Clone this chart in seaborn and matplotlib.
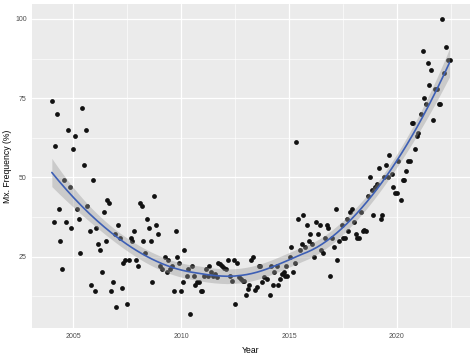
import numpy as np
import pandas as pd
import matplotlib
matplotlib.use("Agg")
import matplotlib.pyplot as plt
import seaborn as sns

# ---- data (decimal year, max frequency %) ----
years_a = [2004.00, 2004.08, 2004.16, 2004.23, 2004.33, 2004.40, 2004.48, 2004.57, 2004.67, 2004.74,
           2004.82, 2004.90, 2004.99, 2005.07, 2005.16, 2005.24, 2005.32, 2005.41, 2005.49, 2005.58,
           2005.65, 2005.75, 2005.83, 2005.90, 2005.99, 2006.07, 2006.15, 2006.24, 2006.32, 2006.41,
           2006.49, 2006.57, 2006.66, 2006.74, 2006.83, 2006.91, 2006.99, 2007.08, 2007.16, 2007.25,
           2007.32, 2007.40, 2007.50, 2007.57, 2007.67, 2007.74, 2007.82, 2007.91, 2007.99, 2008.08,
           2008.16, 2008.24, 2008.33, 2008.41, 2008.50, 2008.58, 2008.66, 2008.75, 2008.83, 2008.92]
freq_a = [74, 36, 60, 70, 40, 30, 21, 49, 36, 65,
          47, 34, 59, 63, 40, 37, 26, 72, 54, 65,
          41, 33, 16, 49, 14, 34, 29, 27, 20, 39,
          30, 43, 42, 14, 17, 32, 9, 35, 31, 15,
          23, 24, 10, 24, 31, 30, 33, 24, 22, 42,
          41, 30, 26, 37, 34, 30, 17, 44, 35, 32]

years_b = [2009.00, 2009.11, 2009.24, 2009.34, 2009.41, 2009.50, 2009.58, 2009.66, 2009.75, 2009.83,
           2009.91, 2010.00, 2010.08, 2010.15, 2010.25, 2010.32, 2010.42, 2010.50, 2010.58, 2010.66,
           2010.74, 2010.82, 2010.90, 2010.98, 2011.06, 2011.15, 2011.23, 2011.31, 2011.39, 2011.48,
           2011.56, 2011.64, 2011.73]
freq_b = [22, 21, 25, 20, 24, 21, 22, 14, 33, 25,
          23, 14, 17, 27, 19, 21, 7, 22, 19, 16,
          17, 17, 14, 14, 19, 21, 19, 22, 20, 19,
          19.5, 18.5, 23]

years_c = [2011.81, 2011.90, 2012.00, 2012.08, 2012.19, 2012.27, 2012.35, 2012.43, 2012.50, 2012.58,
           2012.69, 2012.77, 2012.85, 2012.92, 2013.00, 2013.09, 2013.17, 2013.25, 2013.33, 2013.42,
           2013.50, 2013.59, 2013.66, 2013.75, 2013.82, 2013.97, 2014.10, 2014.17, 2014.25, 2014.33,
           2014.44, 2014.50, 2014.60]
freq_c = [22.6, 22, 21.5, 21, 24, 19, 17.3, 24, 10, 23,
          18.4, 18, 17.3, 17.3, 13, 14.7, 16, 24, 25, 14.5,
          15.5, 22, 22, 17, 18.7, 18, 13, 22, 16, 20,
          22, 16, 18]

years_d = [2014.67, 2014.75, 2014.82, 2014.87, 2014.93, 2015.03, 2015.10, 2015.18, 2015.26, 2015.33,
           2015.44, 2015.52, 2015.60, 2015.67, 2015.75, 2015.83, 2015.92, 2016.00, 2016.08, 2016.17,
           2016.25, 2016.33, 2016.42, 2016.49, 2016.57, 2016.66, 2016.76, 2016.83, 2016.91, 2017.00,
           2017.10, 2017.17, 2017.25, 2017.34]
freq_d = [19.4, 20, 19, 22, 19, 25, 28, 20, 23, 61,
          37, 27, 29, 38, 28, 35, 30, 32, 29, 25,
          36, 32, 35, 27, 26, 31, 35, 34, 19, 31,
          28, 40, 24, 30]

years_e = [2017.45, 2017.53, 2017.60, 2017.68, 2017.76, 2017.84, 2017.92, 2018.02, 2018.10, 2018.18,
           2018.26, 2018.35, 2018.43, 2018.50, 2018.58, 2018.69, 2018.77, 2018.84, 2018.92, 2019.01,
           2019.09, 2019.18, 2019.26, 2019.34, 2019.43, 2019.51, 2019.59, 2019.66, 2019.77, 2019.85,
           2019.93, 2020.00, 2020.08, 2020.19, 2020.27, 2020.35]
freq_e = [35, 31, 31, 37, 33, 39, 40, 36, 32, 31,
          31, 39, 33, 33.5, 33, 44, 50, 46, 38, 47,
          48, 53, 37, 38, 50, 54, 50, 57, 51, 47,
          45, 45, 55, 43, 49, 49]

years_f = [2020.44, 2020.54, 2020.62, 2020.70, 2020.77, 2020.85, 2020.93, 2021.01, 2021.13, 2021.21,
           2021.27, 2021.36, 2021.44, 2021.52, 2021.60, 2021.70, 2021.78, 2021.86, 2021.94, 2022.01,
           2022.12, 2022.21, 2022.29, 2022.37, 2022.45]
freq_f = [52, 55, 55, 67, 67, 59, 63, 64, 70, 90,
          75, 73, 86, 79, 84, 68, 78, 78, 73, 73,
          100, 83, 91, 87, 87]

x_major = [2005, 2010, 2015, 2020]
x_minor = [2007.5, 2012.5, 2017.5, 2022.5]
y_major = [25, 50, 75, 100]
y_minor = [12.5, 37.5, 62.5, 87.5]

df = pd.DataFrame({
    "Year": years_a + years_b + years_c + years_d + years_e + years_f,
    "Freq": freq_a + freq_b + freq_c + freq_d + freq_e + freq_f,
})


# ---- loess (local quadratic, tricube, span 0.75) like geom_smooth ----
def loess_weights(x, x0, span=0.75):
    n = len(x)
    q = int(np.floor(n * span))
    d = np.abs(x - x0)
    h = np.sort(d)[q - 1]
    w = np.clip(1 - (d / h) ** 3, 0, None) ** 3
    X = np.column_stack([np.ones(n), x - x0, (x - x0) ** 2])
    XtW = X.T * w
    A = np.linalg.solve(XtW @ X, XtW)
    return A[0]


x = df["Year"].to_numpy(float)
y = df["Freq"].to_numpy(float)
L = np.array([loess_weights(x, xi) for xi in x])
res = y - L @ y
IL = np.eye(len(x)) - L
M = IL.T @ IL
delta1 = np.trace(M)
sigma = np.sqrt(np.sum(res ** 2) / delta1)

grid = np.linspace(x.min(), x.max(), 160)
Lg = np.array([loess_weights(x, g) for g in grid])
fit = Lg @ y
se = sigma * np.sqrt(np.sum(Lg ** 2, axis=1))
lo, hi = fit - 1.97 * se, fit + 1.97 * se
smooth = pd.DataFrame({"Year": grid, "fit": fit})

# ---- figure ----
sns.set_style("white")
plt.rcParams["font.family"] = ["Liberation Sans", "DejaVu Sans"]

fig = plt.figure(figsize=(4.74, 3.55), dpi=100)
ax = fig.add_axes([32 / 474, 27 / 355, 438 / 474, 324 / 355])
ax.set_facecolor("#EBEBEB")
for s in ax.spines.values():
    s.set_visible(False)

sns.scatterplot(data=df, x="Year", y="Freq", color="#111111", s=12, linewidth=0, ax=ax, zorder=3)
ax.fill_between(grid, lo, hi, color="#999999", alpha=0.4, linewidth=0, zorder=4)
sns.lineplot(data=smooth, x="Year", y="fit", color="#3D5FB5", linewidth=1.2, ax=ax, zorder=5)

ax.set_xlim(2003.08, 2023.4)
ax.set_ylim(2.45, 104.7)
ax.set_xticks(x_major)
ax.set_xticks(x_minor, minor=True)
ax.set_yticks(y_major)
ax.set_yticks(y_minor, minor=True)
ax.set_xticklabels([str(v) for v in x_major])
ax.set_yticklabels([str(v) for v in y_major])
ax.grid(which="major", color="white", linewidth=0.9, zorder=0)
ax.grid(which="minor", color="white", linewidth=0.45, zorder=0)
ax.set_axisbelow(True)
ax.tick_params(which="major", length=2.2, width=0.7, color="#333333",
               labelsize=5, labelcolor="#4D4D4D", pad=1.5)
ax.tick_params(which="minor", length=0)

ax.set_xlabel("Year", fontsize=6.2, color="black")
ax.set_ylabel("Mx. Frequency (%)", fontsize=6.2, color="black")
ax.xaxis.set_label_coords(0.5, -0.056)
ax.yaxis.set_label_coords(-0.046, 0.5)

fig.savefig("out.png", dpi=100, facecolor="white")
